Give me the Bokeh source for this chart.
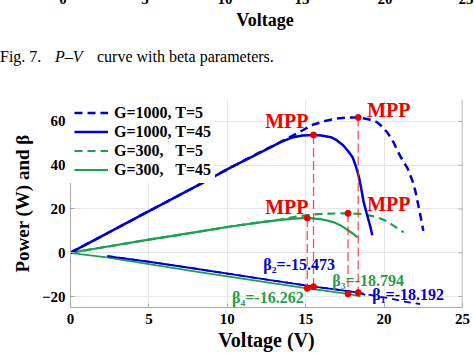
import math
from bokeh.plotting import figure
from bokeh.layouts import column
from bokeh.models import Range1d, FixedTicker, Label, Span, Div
from bokeh.embed import file_html
from bokeh.resources import INLINE

# ---------------- data ----------------
# G=1000, T=5  (P-V)
v_1000_5 = [0, 2, 5, 8, 10.2, 12, 13.4, 14.2, 15.5, 16.3, 17.0, 17.7, 18.35, 19.0, 19.5, 19.8, 20.2,
            20.6, 20.9, 21.2, 21.5, 21.8, 22.0, 22.2, 22.4, 22.5]
p_1000_5 = [0, 7.6, 19.0, 30.3, 38.9, 45.6, 50.6, 53.6, 58.6, 60.3, 61.3, 61.8, 61.8, 61.0, 59.8, 58.1, 55.0,
            50.5, 45.9, 42.0, 38.5, 33.0, 28.0, 21.0, 14.0, 10.0]
# G=1000, T=45 (P-V)
v_1000_45 = [0, 2, 5, 8, 10.2, 12, 13.4, 14.2, 14.8, 15.5, 16.0, 16.6, 17.0, 17.4, 17.7, 18.0, 18.2,
             18.4, 18.55, 18.7, 18.9, 19.1, 19.25]
p_1000_45 = [0, 7.6, 19.0, 30.3, 38.9, 45.4, 50.5, 52.8, 53.6, 53.8, 53.6, 52.8, 51.3, 49.0, 46.5, 43.5, 39.5,
             34.5, 29.0, 23.0, 17.7, 12.5, 8.0]
# G=300, T=5 (P-V)
v_300_5 = [0, 2, 5, 8, 10.2, 12.1, 13.4, 14.3, 15.3, 16.5, 17.7, 18.5, 19.1, 19.6, 20.0, 20.3, 20.6, 20.9, 21.25]
p_300_5 = [0, 2.4, 6.0, 9.4, 12.0, 13.9, 15.2, 16.4, 17.4, 17.9, 18.0, 17.7, 17.0, 16.1, 15.0, 13.8, 12.4, 10.9, 9.3]
# G=300, T=45 (P-V)
v_300_45 = [0, 2, 5, 8, 10.2, 12.1, 13.4, 14.3, 15.1, 15.9, 16.4, 16.8, 17.2, 17.6, 18.0, 18.3]
p_300_45 = [0, 2.4, 6.0, 9.4, 12.0, 13.9, 15.0, 15.6, 15.9, 15.4, 14.7, 13.9, 12.6, 10.8, 8.8, 7.0]

# beta curves
vb_1000_45 = [2.35, 5, 8, 11.9, 15.5, 17.0, 18.35, 18.8]
b_1000_45 = [-1.5, -4.1, -7.3, -11.6, -15.473, -16.8, -18.192, -19.2]
vb_1000_5 = [2.35, 5, 8, 11.9, 15.5, 17.0, 18.35, 19.5, 20.5, 21.3, 22.3]
b_1000_5 = [-1.5, -4.1, -7.3, -11.6, -15.473, -16.8, -18.192, -19.8, -21.0, -22.3, -23.4]
vb_300_45 = [0, 0.6, 2.3, 5, 8, 11.9, 15.1, 17.7, 18.5]
b_300_45 = [0, -0.6, -2.1, -5.2, -8.6, -12.8, -16.262, -18.794, -19.9]

# MPP points and beta values
mpp_v = [18.35, 15.5, 17.7, 15.1]
mpp_p = [61.8, 53.8, 18.0, 15.9]
beta_vals = [-18.192, -15.473, -18.794, -16.262]
beta_text = ["β₁=-18.192", "β₂=-15.473", "β₃=-18.794", "β₄=-16.262"]
beta_colors = ["#0000cc", "#0000cc", "#1f9e4f", "#1f9e4f"]
beta_lab_x = [19.25, 12.3, 16.7, 10.3]
beta_lab_y = [-19.2, -5.5, -12.6, -20.4]
mpp_lab_x = [20.3, 13.8, 20.3, 13.8]
mpp_lab_y = [65.0, 60.0, 22.5, 21.0]

x_ticks = [0, 5, 10, 15, 20, 25]
y_ticks = [-20, 0, 20, 40, 60]
legend_labels = ["G=1000, T=5", "G=1000, T=45", "G=300,   T=5", "G=300,   T=45"]

# remnants of the figure above (page crop) and the caption
prev_ticks = ["0", "5", "10", "15", "20", "25"]
prev_tick_x = [63, 145, 225, 302, 385, 466]
prev_xlabel = "Voltage"
caption_parts = ["Fig. 7.", "P–V", "curve with beta parameters."]
caption_x = [0, 55, 97]
caption_style = ["normal", "italic", "normal"]

BLUE = "#0000cc"
GREEN = "#1f9e4f"
RED = "#ee0000"
AXC = "#a8a8a8"
FONT = "Liberation Serif"

# ---------------- top strip (caption area, HTML text) ----------------
def span(txt, left, top, size, weight="normal", style="normal", center=False):
    tr = "transform:translateX(-50%);" if center else ""
    return (f'<span style="position:absolute;left:{left}px;top:{top}px;font-family:\'{FONT}\';'
            f'font-size:{size}px;font-weight:{weight};font-style:{style};line-height:1;'
            f'white-space:nowrap;color:black;{tr}">{txt}</span>')

parts = []
for t, x in zip(prev_ticks, prev_tick_x):
    parts.append(span(t, x, -7.6, 15, weight="bold", center=True))
parts.append(span(prev_xlabel, 265, 11.4, 18, weight="bold", center=True))
for t, x, s in zip(caption_parts, caption_x, caption_style):
    parts.append(span(t, x, 48.6, 16, style=s))
top_html = ('<div style="position:relative;width:474px;height:80px;overflow:hidden;background:white;">'
            + "".join(parts) + "</div>")
top = Div(text=top_html, width=474, height=80, margin=0)

# ---------------- main chart ----------------
p = figure(width=474, height=273, output_backend="svg", toolbar_location=None,
           x_range=Range1d(0, 25), y_range=Range1d(-25, 70),
           min_border_left=70, min_border_right=12, min_border_top=19, min_border_bottom=46)
p.background_fill_color = "white"
p.border_fill_color = "white"
p.outline_line_color = None
p.margin = 0

for ax in (p.xaxis[0], p.yaxis[0]):
    ax.major_label_text_font = FONT
    ax.major_label_text_font_style = "bold"
    ax.major_label_text_font_size = "15px"
    ax.major_label_text_color = "black"
    ax.axis_label_text_font = FONT
    ax.axis_label_text_font_style = "bold"
    ax.axis_label_text_color = "black"
    ax.axis_line_color = AXC
    ax.major_tick_line_color = AXC
    ax.major_tick_in = 4
    ax.major_tick_out = 0
    ax.minor_tick_line_color = None
p.xaxis.ticker = FixedTicker(ticks=x_ticks)
p.yaxis.ticker = FixedTicker(ticks=y_ticks)
p.xaxis.axis_label = "Voltage (V)"
p.yaxis.axis_label = "Power (W) and β"
p.xaxis.axis_label_text_font_size = "20px"
p.yaxis.axis_label_text_font_size = "19px"
p.xaxis.major_label_standoff = 6
p.xaxis.axis_label_standoff = 2
p.yaxis.major_label_standoff = 5
p.yaxis.axis_label_standoff = 6

p.xgrid.ticker = FixedTicker(ticks=x_ticks)
p.ygrid.ticker = FixedTicker(ticks=y_ticks)
p.grid.grid_line_color = "#e6e6e6"
p.grid.grid_line_width = 1

# right-hand box edge with inward ticks
p.add_layout(Span(location=x_ticks[-1], dimension="height", line_color=AXC, line_width=1.5))
p.ray(x=[x_ticks[-1]] * len(y_ticks), y=y_ticks, length=4, length_units="screen",
      angle=math.pi, line_color=AXC, line_width=1)

# beta curves
p.line(vb_1000_5, b_1000_5, line_color=BLUE, line_width=1.8, line_dash="7 5")
p.line(vb_300_45, b_300_45, line_color=GREEN, line_width=1.8)
p.line(vb_1000_45, b_1000_45, line_color=BLUE, line_width=1.8)

# P-V curves
p.line(v_300_5, p_300_5, line_color=GREEN, line_width=2.2, line_dash="8 5", legend_label=legend_labels[2])
p.line(v_300_45, p_300_45, line_color=GREEN, line_width=2.2, legend_label=legend_labels[3])
p.line(v_1000_5, p_1000_5, line_color=BLUE, line_width=2.5, line_dash="8 5", legend_label=legend_labels[0])
p.line(v_1000_45, p_1000_45, line_color=BLUE, line_width=2.5, legend_label=legend_labels[1])

# MPP vertical dashed lines and dots
p.segment(x0=mpp_v, y0=mpp_p, x1=mpp_v, y1=beta_vals, line_color="#ff2020", line_alpha=0.8,
          line_width=1.3, line_dash="9 4")
p.scatter(mpp_v, mpp_p, size=6, color=RED)
p.scatter(mpp_v, beta_vals, size=6, color=RED)

for x, y in zip(mpp_lab_x, mpp_lab_y):
    p.add_layout(Label(x=x, y=y, text="MPP", text_font=FONT, text_font_style="bold",
                       text_font_size="20px", text_color=RED, text_align="center",
                       text_baseline="middle"))
for x, y, t, c in zip(beta_lab_x, beta_lab_y, beta_text, beta_colors):
    p.add_layout(Label(x=x, y=y, text=t, text_font=FONT, text_font_style="bold",
                       text_font_size="16px", text_color=c, text_align="left",
                       text_baseline="middle"))

leg = p.legend[0]
order = {lab: i for i, lab in enumerate(legend_labels)}
leg.items = sorted(leg.items, key=lambda it: order[it.label.value])
leg.location = "top_left"
leg.margin = 0
leg.padding = 4
leg.spacing = 0
leg.glyph_width = 34
leg.glyph_height = 19
leg.label_height = 19
leg.label_standoff = 6
leg.label_text_font = FONT
leg.label_text_font_style = "bold"
leg.label_text_font_size = "16px"
leg.label_text_color = "black"
leg.border_line_alpha = 0
leg.background_fill_color = "white"
leg.background_fill_alpha = 1.0

layout = column(top, p, spacing=0)
open("out.html", "w").write(file_html(layout, INLINE))
